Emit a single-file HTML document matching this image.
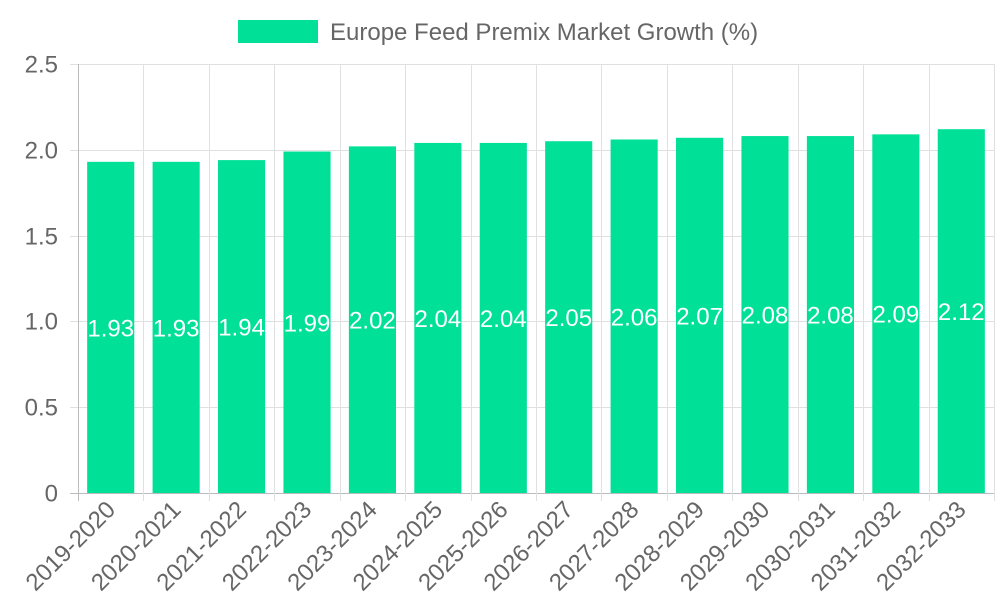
<!DOCTYPE html>
<html><head><meta charset="utf-8"><style>
body{margin:0;background:#fff;}
svg{display:block;font-family:"Liberation Sans",sans-serif;}
</style></head><body>
<svg id="chart" width="1000" height="600"></svg>
<script>
const categories=["2019-2020","2020-2021","2021-2022","2022-2023","2023-2024","2024-2025","2025-2026","2026-2027","2027-2028","2028-2029","2029-2030","2030-2031","2031-2032","2032-2033"];
const values=[1.93,1.93,1.94,1.99,2.02,2.04,2.04,2.05,2.06,2.07,2.08,2.08,2.09,2.12];
const yTicks=[0,0.5,1.0,1.5,2.0,2.5];
const yTickLabels=["0","0.5","1.0","1.5","2.0","2.5"];
const svg=document.getElementById('chart');
const NS='http://www.w3.org/2000/svg';
const L=78,R=994,T=64,B=493,yMax=2.5;
const bw=(R-L)/categories.length;
const y=v=>B-(v/yMax)*(B-T);
const x=i=>L+i*bw;
function mk(tag,attrs,parent){const e=document.createElementNS(NS,tag);for(const k in attrs)e.setAttribute(k,attrs[k]);(parent||svg).appendChild(e);return e;}
// legend
const lg=mk('g',{});


mk('rect',{x:238,y:20,width:80,height:23,fill:'#00e096'},lg);
const lt=mk('text',{x:330,y:40,'font-size':24,fill:'#666'},lg);lt.textContent='Europe Feed Premix Market Growth (%)';
// grid
const grid=mk('g',{});


yTicks.forEach((t,i)=>{
  const yy=Math.round(y(t))+0.5;
  mk('line',{x1:70,x2:R,y1:yy,y2:yy,stroke:i==0?'#bbb':'#e0e0e0','stroke-width':1},grid);
  const tx=mk('text',{x:58,y:yy+8,'font-size':24,fill:'#666','text-anchor':'end'},grid);
  
  
  tx.textContent=yTickLabels[i];
});
for(let i=0;i<=categories.length;i++){
  const xx=Math.round(x(i))+0.5;
  mk('line',{x1:xx,x2:xx,y1:T,y2:B+8,stroke:i==0?'#bbb':'#e0e0e0','stroke-width':1},grid);
}
// bars
categories.forEach((c,i)=>{
  const cx=x(i)+bw/2, w=bw*0.72;
  const r=mk('rect',{x:cx-w/2,y:y(values[i]),width:w,height:B-y(values[i]),fill:'#00e096'});
  
  
  const vt=mk('text',{x:cx,y:(y(values[i])+B)/2+9,'font-size':24,fill:'#fff','text-anchor':'middle'});
  
  
  vt.textContent=values[i].toFixed(2);
  const xl=mk('text',{x:cx+6,y:B+18,'font-size':24,fill:'#666','text-anchor':'end',transform:`rotate(-45 ${cx+6} ${B+18})`});
  
  
  xl.textContent=c;
});
</script>
</body></html>
